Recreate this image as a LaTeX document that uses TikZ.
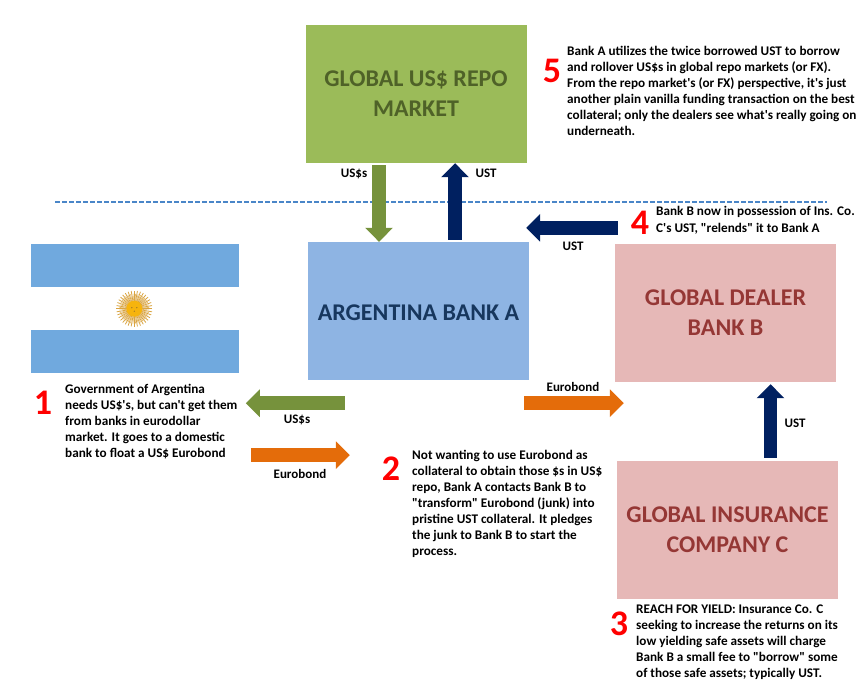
\documentclass[tikz,border=0pt]{standalone}
\usepackage{fontspec}
\setmainfont[Ligatures=TeXOff]{Carlito}
\usetikzlibrary{arrows.meta,calc}
\definecolor{gbox}{HTML}{9BBB59}
\definecolor{gtxt}{HTML}{4F6228}
\definecolor{bbox}{HTML}{8EB4E3}
\definecolor{btxt}{HTML}{17375E}
\definecolor{rbox}{HTML}{E6B8B7}
\definecolor{rtxt}{HTML}{953735}
\definecolor{flagblue}{HTML}{70A9DE}
\definecolor{garrow}{HTML}{76923C}
\definecolor{oarrow}{HTML}{E46C0A}
\definecolor{narrow}{HTML}{002060}
\definecolor{dashblue}{HTML}{4A86C8}
\definecolor{sunray}{HTML}{D9A441}
\definecolor{sunface}{HTML}{F6B40E}
\tikzset{
  x=1pt,y=-1pt,
  boxbase/.style={minimum width=221pt,minimum height=138pt,inner sep=0pt,align=center,font=\bfseries\fontsize{24}{30}\selectfont,execute at begin node={\rule{0pt}{18.5pt}}},
  greenbox/.style={boxbase,fill=gbox,text=gtxt},
  bluebox/.style={boxbase,fill=bbox,text=btxt},
  pinkbox/.style={boxbase,fill=rbox,text=rtxt},
  stripe/.style={minimum width=208pt,minimum height=43pt,inner sep=0pt,fill=flagblue},
  note/.style={anchor=north west,inner sep=0pt,align=left,text=black,font=\bfseries\fontsize{13.2}{16}\selectfont},
  shortnote/.style={note,font=\bfseries\fontsize{13.2}{16.5}\selectfont},
  numeral/.style={inner sep=0pt,text=red,font=\bfseries\fontsize{36}{36}\selectfont},
  lab/.style={inner sep=0pt,text=black,font=\bfseries\fontsize{13}{15}\selectfont},
  block/.style={line width=13.5pt,-{Triangle[length=14pt,width=27pt]}},
  greenflow/.style={block,draw=garrow},
  orangeflow/.style={block,draw=oarrow},
  navyflow/.style={block,draw=narrow},
}
\begin{document}
\begin{tikzpicture}
\useasboundingbox (0,0) rectangle (864,699);
\node[greenbox] (repo) at (416,94) {GLOBAL US\$ REPO\\MARKET};
\node[bluebox] (bankA) at (418.5,311) {ARGENTINA BANK A};
\node[pinkbox] (dealer) at (725.5,313) {GLOBAL DEALER\\BANK B};
\node[pinkbox] (insurer) at (727.5,530) {GLOBAL INSURANCE\\COMPANY C};
\node[stripe] (flagtop) at (134.7,265.5) {};
\node[stripe] (flagbot) at (134.7,351.5) {};
\coordinate (sun) at (134.3,308.7);
\foreach \a in {0,10,...,350}{
  \draw[sunray,line width=0.8pt] (sun) -- ++(\a:18);
  \draw[sunray!80!white,line width=0.6pt] (sun) -- ++(\a+5:15);
}
\fill[sunface] (sun) circle[radius=8];
\fill[sunray!70!black] ($(sun)+(-2.5,-1)$) circle[radius=0.7] ($(sun)+(2.5,-1)$) circle[radius=0.7] ($(sun)+(0,2.5)$) circle[radius=0.7];
\coordinate (dashL) at (55,202);
\coordinate (dashR) at (827,202);
\draw[draw=dashblue,line width=1.2pt,dash pattern=on 5pt off 2pt] (dashL) -- (dashR);
\draw[greenflow] ($(repo.south)+(-37,2)$) -- ($(bankA.north)+(-39.5,0)$);
\draw[navyflow] ($(bankA.north)+(36.5,-2)$) -- ($(repo.south)+(39,0)$);
\draw[navyflow] ($(dealer.north)+(-108,-16)$) -- ($(bankA.north east)+(-3,-14)$);
\draw[navyflow] ($(insurer.north)+(43,-3)$) -- ($(dealer.south)+(45,2)$);
\draw[greenflow] ($(bankA.south west)+(37,23)$) -- ($(bankA.south west)+(-62,23)$);
\draw[orangeflow] ($(bankA.south west)+(-57,75)$) -- ($(bankA.south west)+(42,75)$);
\draw[orangeflow] ($(bankA.south east)+(-5,23)$) -- ($(dealer.south west)+(9,21)$);
\node[lab] (l1) at (354,174) {US\$s};
\node[lab] (l2) at (486,173) {UST};
\node[lab] (l3) at (573,246) {UST};
\node[lab] (l4) at (297,420) {US\$s};
\node[lab] (l5) at (300,474) {Eurobond};
\node[lab] (l6) at (573,387) {Eurobond};
\node[lab] (l7) at (795,423) {UST};
\node[numeral] (n1) at (43,403) {1};
\node[note] (t1) at (65,384) {Government of Argentina\\needs US\$'s, but can't get them\\from banks in eurodollar\\market. It goes to a domestic\\bank to float a US\$ Eurobond};
\node[numeral] (n2) at (391,469) {2};
\node[note] (t2) at (412,450) {Not wanting to use Eurobond as\\collateral to obtain those \$s in US\$\\repo, Bank A contacts Bank B to\\"transform" Eurobond (junk) into\\pristine UST collateral. It pledges\\the junk to Bank B to start the\\process.};
\node[numeral] (n3) at (619,624) {3};
\node[note] (t3) at (636,605) {REACH FOR YIELD: Insurance Co. C\\seeking to increase the returns on its\\low yielding safe assets will charge\\Bank B a small fee to "borrow" some\\of those safe assets; typically UST.};
\node[numeral] (n4) at (640,223) {4};
\node[shortnote] (t4) at (656,206.5) {Bank B now in possession of Ins. Co.\\C's UST, "relends" it to Bank A};
\node[numeral] (n5) at (552,71) {5};
\node[note] (t5) at (567,46) {Bank A utilizes the twice borrowed UST to borrow\\and rollover US\$s in global repo markets (or FX).\\From the repo market's (or FX) perspective, it's just\\another plain vanilla funding transaction on the best\\collateral; only the dealers see what's really going on\\underneath.};
\end{tikzpicture}
\end{document}
